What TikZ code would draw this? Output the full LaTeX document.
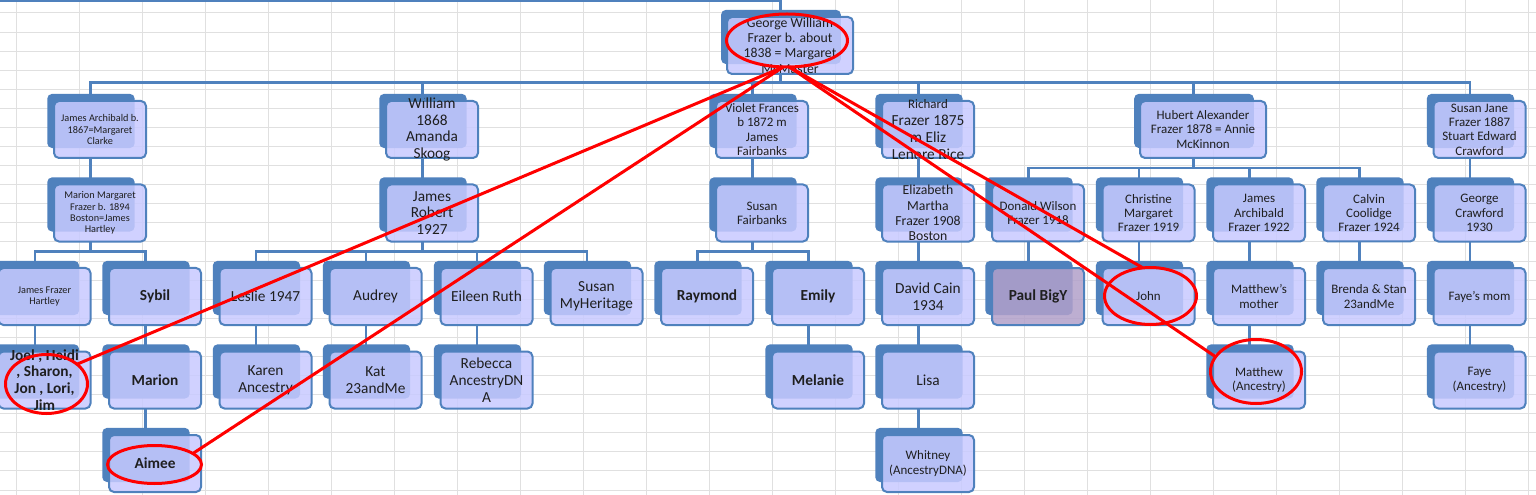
\documentclass[tikz,border=0pt]{standalone}
\usepackage{fontspec}
\setmainfont{Carlito}
\usepackage{xcolor}
\usepackage{tikz}
\usetikzlibrary{shapes.geometric, positioning, shadows}

\definecolor{backblue}{RGB}{79,129,189}
\definecolor{lavender}{RGB}{200,202,255}
\definecolor{bigypurple}{RGB}{178,160,202}
\definecolor{sheetgrid}{RGB}{224,224,224}
\definecolor{marker}{RGB}{255,0,0}

\begin{document}
\begin{tikzpicture}[x=1bp, y=-1bp, node distance=26.5bp]
        \tikzstyle{person} = [rectangle, rounded corners=5bp, minimum width=92bp, minimum height=57bp, inner xsep=-20bp, inner ysep=-14bp, outer sep=0pt, align=center, draw=backblue, line width=2bp, fill=lavender, fill opacity=0.85, text opacity=1, text=black!88, copy shadow={shadow xshift=-9.5bp, shadow yshift=9bp, shadow scale=0.95, fill=backblue, fill opacity=1, draw=none}]
        \tikzstyle{wide} = [minimum width=126bp]
        \tikzstyle{txtXS} = [font=\fontsize{10.3}{11.4}\selectfont]
        \tikzstyle{txtS} = [font=\fontsize{13}{14.3}\selectfont]
        \tikzstyle{txtM} = [font=\fontsize{13.8}{15.4}\selectfont]
        \tikzstyle{txtL} = [font=\fontsize{15.4}{16.9}\selectfont]
        \tikzstyle{txtB} = [font=\fontsize{15.4}{16.9}\selectfont\bfseries]
        \tikzstyle{link} = [draw=backblue, line width=2.5bp]
        \tikzstyle{gridline} = [draw=sheetgrid, line width=1bp]
        \tikzstyle{ring} = [ellipse, draw=marker, line width=3bp, inner sep=0pt, outer sep=0pt]
        \tikzstyle{redline} = [draw=marker, line width=3bp]

        \useasboundingbox (0,0) rectangle (1536,495);
        \clip (0,0) rectangle (1536,495);
        \fill [white] (0,0) rectangle (1536,495);

        % Sheet grid
        \foreach \gx in {0,...,24} \draw [gridline] (16+63*\gx,0) -- (16+63*\gx,495);
        \foreach \gy in {0,...,25} \draw [gridline] (0,13+19.08*\gy) -- (1536,13+19.08*\gy);

        % Couple
        \node (root) [person, wide, txtM] at (790,45.5) {George William\\Frazer b. about\\1838 = Margaret\\McMaster};
        \coordinate (offpage) at (0,1);

        % Children
        \node (ja) [person, txtXS] at (100,129.5) {James Archibald b.\\1867=Margaret\\Clarke};
        \node (will) [person, txtL] at (432,129.5) {William\\1868\\Amanda\\Skoog};
        \node (vio) [person, txtS] at (762,129.5) {Violet Frances\\b 1872 m\\James\\Fairbanks};
        \node (rich) [person, txtL] at (928,129.5) {{\fontsize{13}{14.3}\selectfont Richard}\\Frazer 1875\\m Eliz\\Lenore Rice};
        \node (hub) [person, wide, txtS] at (1203,129.5) {Hubert Alexander\\Frazer 1878 = Annie\\McKinnon};
        \node (sj) [person, txtS] at (1479.5,129.5) {Susan Jane\\Frazer 1887\\Stuart Edward\\Crawford};

        % Grandchildren
        \node (mm) [person, txtXS, below=of ja] {Marion Margaret\\Frazer b. 1894\\Boston=James\\Hartley};
        \node (jr) [person, txtL, below=of will] {James\\Robert\\1927};
        \node (sf) [person, txtS, below=of vio] {Susan\\Fairbanks};
        \node (eliz) [person, txtM, below=of rich] {Elizabeth\\Martha\\Frazer 1908\\Boston};
        \node (don) [person, txtS] at (1038,213) {Donald Wilson\\Frazer 1918};
        \node (chris) [person, txtS] at (1148.5,213) {Christine\\Margaret\\Frazer 1919};
        \node (jaf) [person, txtS] at (1259,213) {James\\Archibald\\Frazer 1922};
        \node (calv) [person, txtS] at (1369,213) {Calvin\\Coolidge\\Frazer 1924};
        \node (gc) [person, txtS, below=of sj] {George\\Crawford\\1930};

        % Great-grandchildren
        \node (jfh) [person, txtXS] at (44.5,296.5) {James Frazer\\Hartley};
        \node (syb) [person, txtB] at (155,296.5) {Sybil};
        \node (les) [person, txtL] at (265.5,296.5) {Leslie 1947};
        \node (aud) [person, txtL] at (375.5,296.5) {Audrey};
        \node (eil) [person, txtL] at (486.5,296.5) {Eileen Ruth};
        \node (smh) [person, txtL] at (596.5,296.5) {Susan\\MyHeritage};
        \node (ray) [person, txtB] at (707,296.5) {Raymond};
        \node (emi) [person, txtB] at (818,296.5) {Emily};
        \node (david) [person, txtL, below=of eliz] {David Cain\\1934};
        \node (paul) [person, txtB, fill=bigypurple, below=of don] {Paul BigY};
        \node (john) [person, txtS, below=of chris] {John};
        \node (mom) [person, txtS, below=of jaf] {Matthew's\\mother};
        \node (bren) [person, txtS, below=of calv] {Brenda \& Stan\\23andMe};
        \node (fmom) [person, txtS, below=of gc] {Faye's mom};

        % Next generation
        \node (joel) [person, txtB, below=of jfh] {Joel , Heidi\\, Sharon,\\Jon , Lori,\\Jim};
        \node (mar) [person, txtB, below=of syb] {Marion};
        \node (kar) [person, txtL, below=of les] {Karen\\Ancestry};
        \node (kat) [person, txtL, below=of aud] {Kat\\23andMe};
        \node (reb) [person, txtL, below=of eil] {Rebecca\\AncestryDN\\A};
        \node (mel) [person, txtB, below=of emi] {Melanie};
        \node (lisa) [person, txtL, below=of david] {Lisa};
        \node (matt) [person, txtS, below=of mom] {Matthew\\(Ancestry)};
        \node (faye) [person, txtS, below=of fmom] {Faye\\(Ancestry)};
        \node (aim) [person, txtB, below=of mar] {Aimee};
        \node (whit) [person, txtS, below=of lisa] {Whitney\\(AncestryDNA)};

        % Tree lines
        \draw [link] (offpage) -| ([xshift=-9.5bp]root.north);
        \draw [link] ([xshift=-9.5bp]root.south) -- ++(0,8.5) -| ([xshift=-9.5bp]ja.north);
        \draw [link] ([xshift=-9.5bp]root.south) -- ++(0,8.5) -| ([xshift=-9.5bp]will.north);
        \draw [link] ([xshift=-9.5bp]root.south) -- ++(0,8.5) -| ([xshift=-9.5bp]vio.north);
        \draw [link] ([xshift=-9.5bp]root.south) -- ++(0,8.5) -| ([xshift=-9.5bp]rich.north);
        \draw [link] ([xshift=-9.5bp]root.south) -- ++(0,8.5) -| ([xshift=-9.5bp]hub.north);
        \draw [link] ([xshift=-9.5bp]root.south) -- ++(0,8.5) -| ([xshift=-9.5bp]sj.north);
        \draw [link] ([xshift=-9.5bp]ja.south) -- ([xshift=-9.5bp]mm.north);
        \draw [link] ([xshift=-9.5bp]will.south) -- ([xshift=-9.5bp]jr.north);
        \draw [link] ([xshift=-9.5bp]vio.south) -- ([xshift=-9.5bp]sf.north);
        \draw [link] ([xshift=-9.5bp]rich.south) -- ([xshift=-9.5bp]eliz.north);
        \draw [link] ([xshift=-9.5bp]sj.south) -- ([xshift=-9.5bp]gc.north);
        \draw [link] ([xshift=-9.5bp]hub.south) -- ++(0,10) -| ([xshift=-9.5bp]don.north);
        \draw [link] ([xshift=-9.5bp]hub.south) -- ++(0,10) -| ([xshift=-9.5bp]chris.north);
        \draw [link] ([xshift=-9.5bp]hub.south) -- ++(0,10) -| ([xshift=-9.5bp]jaf.north);
        \draw [link] ([xshift=-9.5bp]hub.south) -- ++(0,10) -| ([xshift=-9.5bp]calv.north);
        \draw [link] ([xshift=-9.5bp]mm.south) -- ++(0,10) -| ([xshift=-9.5bp]jfh.north);
        \draw [link] ([xshift=-9.5bp]mm.south) -- ++(0,10) -| ([xshift=-9.5bp]syb.north);
        \draw [link] ([xshift=-9.5bp]jr.south) -- ++(0,10) -| ([xshift=-9.5bp]les.north);
        \draw [link] ([xshift=-9.5bp]jr.south) -- ++(0,10) -| ([xshift=-9.5bp]aud.north);
        \draw [link] ([xshift=-9.5bp]jr.south) -- ++(0,10) -| ([xshift=-9.5bp]eil.north);
        \draw [link] ([xshift=-9.5bp]jr.south) -- ++(0,10) -| ([xshift=-9.5bp]smh.north);
        \draw [link] ([xshift=-9.5bp]sf.south) -- ++(0,10) -| ([xshift=-9.5bp]ray.north);
        \draw [link] ([xshift=-9.5bp]sf.south) -- ++(0,10) -| ([xshift=-9.5bp]emi.north);
        \draw [link] ([xshift=-9.5bp]eliz.south) -- ([xshift=-9.5bp]david.north);
        \draw [link] ([xshift=-9.5bp]don.south) -- ([xshift=-9.5bp]paul.north);
        \draw [link] ([xshift=-9.5bp]chris.south) -- ([xshift=-9.5bp]john.north);
        \draw [link] ([xshift=-9.5bp]jaf.south) -- ([xshift=-9.5bp]mom.north);
        \draw [link] ([xshift=-9.5bp]calv.south) -- ([xshift=-9.5bp]bren.north);
        \draw [link] ([xshift=-9.5bp]gc.south) -- ([xshift=-9.5bp]fmom.north);
        \draw [link] ([xshift=-9.5bp]jfh.south) -- ([xshift=-9.5bp]joel.north);
        \draw [link] ([xshift=-9.5bp]syb.south) -- ([xshift=-9.5bp]mar.north);
        \draw [link] ([xshift=-9.5bp]les.south) -- ([xshift=-9.5bp]kar.north);
        \draw [link] ([xshift=-9.5bp]aud.south) -- ([xshift=-9.5bp]kat.north);
        \draw [link] ([xshift=-9.5bp]eil.south) -- ([xshift=-9.5bp]reb.north);
        \draw [link] ([xshift=-9.5bp]emi.south) -- ([xshift=-9.5bp]mel.north);
        \draw [link] ([xshift=-9.5bp]david.south) -- ([xshift=-9.5bp]lisa.north);
        \draw [link] ([xshift=-9.5bp]mom.south) -- ([xshift=-9.5bp]matt.north);
        \draw [link] ([xshift=-9.5bp]fmom.south) -- ([xshift=-9.5bp]faye.north);
        \draw [link] ([xshift=-9.5bp]mar.south) -- ([xshift=-9.5bp]aim.north);
        \draw [link] ([xshift=-9.5bp]lisa.south) -- ([xshift=-9.5bp]whit.north);

        % Red markings
        \node (ringroot) [ring, minimum width=121bp, minimum height=53bp] at (787,40.5) {};
        \node (ringjoel) [ring, minimum width=82bp, minimum height=59bp] at (46.5,384) {};
        \node (ringaimee) [ring, minimum width=94bp, minimum height=38bp] at (154.5,464.5) {};
        \node (ringjohn) [ring, minimum width=92bp, minimum height=57bp] at (1150.5,296) {};
        \node (ringmatt) [ring, minimum width=91bp, minimum height=64bp] at (1256,371.5) {};
        \draw [redline] (ringroot.262) -- (ringjoel.33);
        \draw [redline] (ringroot.262) -- (ringaimee.16);
        \draw [redline] (ringroot.275) -- (ringjohn.105);
        \draw [redline] (ringroot.275) -- (ringmatt.160);
\end{tikzpicture}
\end{document}
